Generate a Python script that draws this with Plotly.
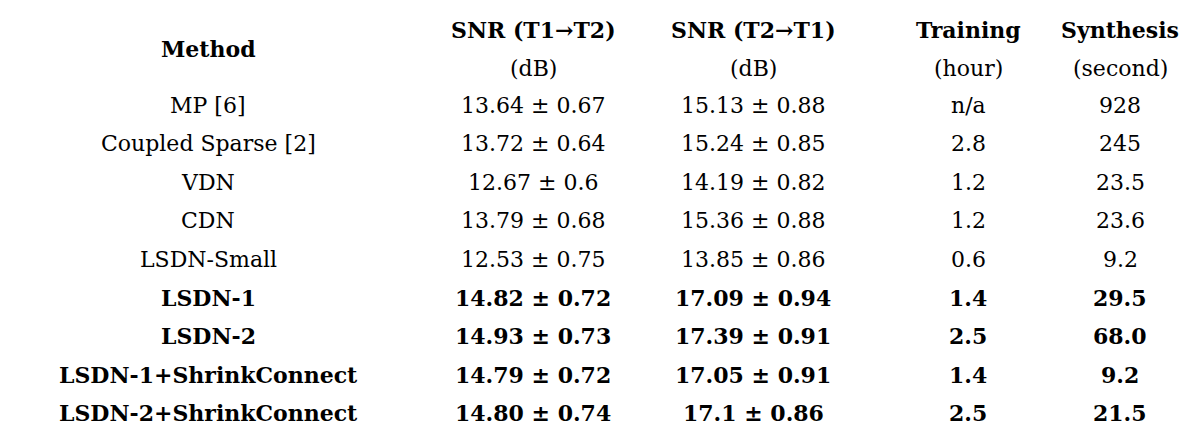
import plotly.graph_objects as go

methods = ["MP [6]", "Coupled Sparse [2]", "VDN", "CDN", "LSDN-Small",
           "LSDN-1", "LSDN-2", "LSDN-1+ShrinkConnect", "LSDN-2+ShrinkConnect"]
snr_t1t2 = ["13.64 ± 0.67", "13.72 ± 0.64", "12.67 ± 0.6", "13.79 ± 0.68", "12.53 ± 0.75",
            "14.82 ± 0.72", "14.93 ± 0.73", "14.79 ± 0.72", "14.80 ± 0.74"]
snr_t2t1 = ["15.13 ± 0.88", "15.24 ± 0.85", "14.19 ± 0.82", "15.36 ± 0.88", "13.85 ± 0.86",
            "17.09 ± 0.94", "17.39 ± 0.91", "17.05 ± 0.91", "17.1 ± 0.86"]
training = ["n/a", "2.8", "1.2", "1.2", "0.6", "1.4", "2.5", "1.4", "2.5"]
synthesis = ["928", "245", "23.5", "23.6", "9.2", "29.5", "68.0", "9.2", "21.5"]
bold_rows = [False] * 5 + [True] * 4

headers = ["Method", "SNR (T1→T2)", "SNR (T2→T1)", "Training", "Synthesis"]
units = [None, "(dB)", "(dB)", "(hour)", "(second)"]

col_x = [200, 525, 745, 960, 1112]
row_y0, row_dy = 97, 38.5
font = dict(family="DejaVu Serif, serif", size=22, color="black")

fig = go.Figure()
ann = []
for i, (h, u) in enumerate(zip(headers, units)):
    if u is None:
        ann.append(dict(x=col_x[i], y=41, text=f"<b>{h}</b>"))
    else:
        ann.append(dict(x=col_x[i], y=22, text=f"<b>{h}</b>"))
        ann.append(dict(x=col_x[i], y=60, text=u))

columns = [methods, snr_t1t2, snr_t2t1, training, synthesis]
for r in range(len(methods)):
    y = row_y0 + r * row_dy
    for c, col in enumerate(columns):
        t = col[r]
        if bold_rows[r]:
            t = f"<b>{t}</b>"
        ann.append(dict(x=col_x[c], y=y, text=t))

for a in ann:
    a.update(xref="x", yref="y", showarrow=False, font=font, xanchor="center", yanchor="middle")

fig.update_layout(
    annotations=ann,
    width=1196, height=430,
    margin=dict(l=0, r=0, t=0, b=0),
    paper_bgcolor="white", plot_bgcolor="white",
    xaxis=dict(range=[0, 1196], visible=False, fixedrange=True),
    yaxis=dict(range=[430, 0], visible=False, fixedrange=True),
    showlegend=False,
)

fig.write_html("out.html")
